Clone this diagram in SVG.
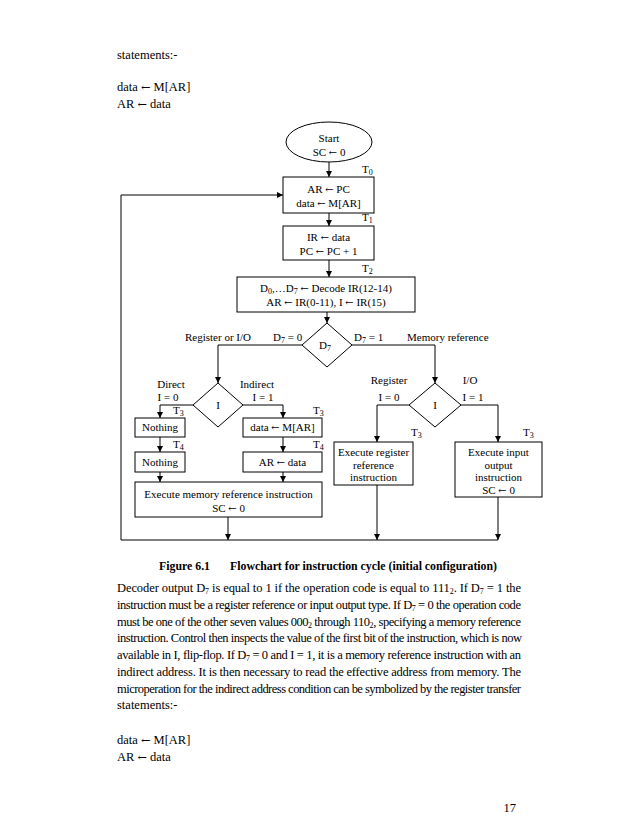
<svg xmlns="http://www.w3.org/2000/svg" width="638" height="826" viewBox="0 0 638 826">
<defs>
<marker id="ah" markerWidth="7" markerHeight="7" refX="6" refY="3" orient="auto" markerUnits="userSpaceOnUse">
<path d="M0,0 L6,3 L0,6 Z" fill="#000"/>
</marker>
<style>
.t{font-family:"Liberation Serif","Times New Roman",serif;fill:#000}
.p{font-size:12.5px}
.d{font-size:11px}
.s{font-size:8px}
.a{font-family:"DejaVu Serif","DejaVu Sans",serif;font-size:0.9em}
.c{text-anchor:middle}
.b{font-weight:bold;font-size:12px}
.box{fill:#fff;stroke:#000;stroke-width:1}
.ln{fill:none;stroke:#000;stroke-width:1}
.ar{fill:none;stroke:#000;stroke-width:1;marker-end:url(#ah)}
</style>
</defs>
<rect width="638" height="826" fill="#fff"/>

<g id="toptext" class="t p">
<text x="117" y="59">statements:-</text>
<text x="117" y="91">data <tspan class="a">←</tspan> M[AR]</text>
<text x="117" y="108">AR <tspan class="a">←</tspan> data</text>
</g>

<g id="connectors">
<line class="ar" x1="329" y1="162" x2="329" y2="177"/>
<line class="ar" x1="329" y1="213" x2="329" y2="226"/>
<line class="ar" x1="329" y1="260" x2="329" y2="277"/>
<line class="ar" x1="327" y1="312" x2="327" y2="323"/>
<polyline class="ar" points="302,345 218,345 218,383"/>
<polyline class="ar" points="352,345 435,345 435,383"/>
<polyline class="ar" points="193,405 160,405 160,418"/>
<polyline class="ar" points="243,405 283,405 283,418"/>
<line class="ar" x1="160" y1="437" x2="160" y2="452"/>
<line class="ar" x1="283" y1="437" x2="283" y2="452"/>
<line class="ar" x1="160" y1="472" x2="160" y2="482"/>
<line class="ar" x1="283" y1="472" x2="283" y2="482"/>
<polyline class="ar" points="409,405 377,405 377,442"/>
<polyline class="ar" points="461,405 498,405 498,442"/>
<line class="ar" x1="228" y1="517" x2="228" y2="540"/>
<line class="ar" x1="377" y1="485" x2="377" y2="540"/>
<line class="ar" x1="498" y1="497" x2="498" y2="540"/>
<line class="ln" x1="121" y1="540" x2="498" y2="540"/>
<polyline class="ar" points="121,540 121,195 283,195"/>
</g>

<g id="labels" class="t d">
<text x="362" y="173">T<tspan class="s" dy="2">0</tspan></text>
<text x="362" y="221">T<tspan class="s" dy="2">1</tspan></text>
<text x="362" y="272">T<tspan class="s" dy="2">2</tspan></text>
<text x="218" y="341" class="c">Register or I/O</text>
<text x="273" y="341">D<tspan class="s" dy="2">7</tspan><tspan dy="-2"> = 0</tspan></text>
<text x="354" y="341">D<tspan class="s" dy="2">7</tspan><tspan dy="-2"> = 1</tspan></text>
<text x="407" y="341">Memory reference</text>
<text x="171" y="388" class="c">Direct</text>
<text x="168" y="401" class="c">I = 0</text>
<text x="257" y="388" class="c">Indirect</text>
<text x="263" y="401" class="c">I = 1</text>
<text x="389" y="384" class="c">Register</text>
<text x="389" y="401" class="c">I = 0</text>
<text x="470" y="384" class="c">I/O</text>
<text x="473" y="401" class="c">I = 1</text>
<text x="173" y="414">T<tspan class="s" dy="2">3</tspan></text>
<text x="313" y="414">T<tspan class="s" dy="2">3</tspan></text>
<text x="173" y="448">T<tspan class="s" dy="2">4</tspan></text>
<text x="313" y="448">T<tspan class="s" dy="2">4</tspan></text>
<text x="411" y="436">T<tspan class="s" dy="2">3</tspan></text>
<text x="523" y="436">T<tspan class="s" dy="2">3</tspan></text>
</g>

<g id="start">
<ellipse class="box" cx="329" cy="142" rx="43" ry="20"/>
<text class="t d c" x="329" y="142">Start</text>
<text class="t d c" x="329" y="156">SC <tspan class="a">←</tspan> 0</text>
</g>

<g id="fetch1">
<rect class="box" x="283" y="177" width="91" height="36"/>
<text class="t d c" x="328.5" y="193">AR <tspan class="a">←</tspan> PC</text>
<text class="t d c" x="328.5" y="207">data <tspan class="a">←</tspan> M[AR]</text>
</g>

<g id="fetch2">
<rect class="box" x="283" y="226" width="91" height="34"/>
<text class="t d c" x="328.5" y="241">IR <tspan class="a">←</tspan> data</text>
<text class="t d c" x="328.5" y="255">PC <tspan class="a">←</tspan> PC + 1</text>
</g>

<g id="decode">
<rect class="box" x="237" y="277" width="178" height="35"/>
<text class="t d c" x="326" y="292">D<tspan class="s" dy="2">0</tspan><tspan dy="-2">,…D</tspan><tspan class="s" dy="2">7</tspan><tspan dy="-2"> </tspan><tspan class="a">←</tspan> Decode IR(12-14)</text>
<text class="t d c" x="326" y="306">AR <tspan class="a">←</tspan> IR(0-11), I <tspan class="a">←</tspan> IR(15)</text>
</g>

<g id="d7">
<polygon class="box" points="327,323 352,345 327,367 302,345"/>
<text class="t d c" x="325" y="349">D<tspan class="s" dy="2">7</tspan></text>
</g>

<g id="iLeft">
<polygon class="box" points="218,383 243,405 218,427 193,405"/>
<text class="t d c" x="218" y="409">I</text>
</g>

<g id="iRight">
<polygon class="box" points="435,383 461,405 435,427 409,405"/>
<text class="t d c" x="435" y="409">I</text>
</g>

<g id="nothing1">
<rect class="box" x="135" y="418" width="50" height="19"/>
<text class="t d c" x="160" y="431">Nothing</text>
</g>

<g id="nothing2">
<rect class="box" x="135" y="452" width="50" height="20"/>
<text class="t d c" x="160" y="466">Nothing</text>
</g>

<g id="indirect1">
<rect class="box" x="243" y="418" width="79" height="19"/>
<text class="t d c" x="282.5" y="431">data <tspan class="a">←</tspan> M[AR]</text>
</g>

<g id="indirect2">
<rect class="box" x="243" y="452" width="79" height="20"/>
<text class="t d c" x="282.5" y="466">AR <tspan class="a">←</tspan> data</text>
</g>

<g id="execMem">
<rect class="box" x="135" y="482" width="187" height="35"/>
<text class="t d c" x="228.5" y="498">Execute memory reference instruction</text>
<text class="t d c" x="228.5" y="512">SC <tspan class="a">←</tspan> 0</text>
</g>

<g id="execReg">
<rect class="box" x="334" y="442" width="79" height="43"/>
<text class="t d c" x="373.5" y="456">Execute register</text>
<text class="t d c" x="373.5" y="469">reference</text>
<text class="t d c" x="373.5" y="481">instruction</text>
</g>

<g id="execIO">
<rect class="box" x="455" y="442" width="87" height="55"/>
<text class="t d c" x="498.5" y="456">Execute input</text>
<text class="t d c" x="498.5" y="469">output</text>
<text class="t d c" x="498.5" y="481">instruction</text>
<text class="t d c" x="498.5" y="494">SC <tspan class="a">←</tspan> 0</text>
</g>

<g id="caption" class="t b">
<text x="159" y="570" textLength="51" lengthAdjust="spacingAndGlyphs">Figure 6.1</text>
<text x="230" y="570" textLength="267" lengthAdjust="spacingAndGlyphs">Flowchart for instruction cycle (initial configuration)</text>
</g>

<g id="paragraph" class="t p">
<text x="117" y="592" textLength="404" lengthAdjust="spacing">Decoder output D<tspan class="s" dy="2">7</tspan><tspan dy="-2"> is equal to 1 if the operation code is equal to 111</tspan><tspan class="s" dy="2">2</tspan><tspan dy="-2">. If D</tspan><tspan class="s" dy="2">7</tspan><tspan dy="-2"> = 1 the</tspan></text>
<text x="117" y="609" textLength="404" lengthAdjust="spacing">instruction must be a register reference or input output type. If D<tspan class="s" dy="2">7</tspan><tspan dy="-2"> = 0 the operation code</tspan></text>
<text x="117" y="626" textLength="404" lengthAdjust="spacing">must be one of the other seven values 000<tspan class="s" dy="2">2</tspan><tspan dy="-2"> through 110</tspan><tspan class="s" dy="2">2</tspan><tspan dy="-2">, specifying a memory reference</tspan></text>
<text x="117" y="642" textLength="405" lengthAdjust="spacing">instruction. Control then inspects the value of the first bit of the instruction, which is now</text>
<text x="117" y="659" textLength="404" lengthAdjust="spacing">available in I, flip-flop. If D<tspan class="s" dy="2">7</tspan><tspan dy="-2"> = 0 and I = 1, it is a memory reference instruction with an</tspan></text>
<text x="117" y="676" textLength="404" lengthAdjust="spacing">indirect address. It is then necessary to read the effective address from memory. The</text>
<text x="117" y="693" textLength="404" lengthAdjust="spacing">microperation for the indirect address condition can be symbolized by the register transfer</text>
<text x="117" y="709">statements:-</text>
<text x="117" y="744">data <tspan class="a">←</tspan> M[AR]</text>
<text x="117" y="761">AR <tspan class="a">←</tspan> data</text>
</g>

<g id="pagenum">
<text class="t p" x="516" y="812" text-anchor="end">17</text>
</g>
</svg>
